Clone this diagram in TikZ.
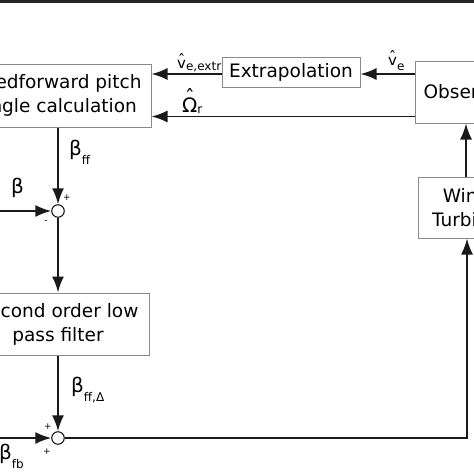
\documentclass[tikz,border=0pt]{standalone}
\usepackage{fontspec}
\setmainfont{DejaVu Sans}
\usetikzlibrary{arrows.meta,calc}
\definecolor{linec}{HTML}{1A1A1A}
\definecolor{boxgray}{HTML}{8A8A8A}
\definecolor{topc}{HTML}{262626}
\newcommand{\subtx}[2]{\raisebox{-#1}{\fontsize{12}{12}\selectfont #2}}
\newcommand{\hatover}[2]{\leavevmode\setbox0\hbox{#1}\rlap{\hbox to\wd0{\hss\raisebox{#2}{ˆ}\hss}}\box0}
\begin{document}
\begin{tikzpicture}[x=1pt,y=-1pt,
  blk/.style={draw=boxgray, line width=1pt, fill=white, inner sep=0pt, align=center, font=\fontsize{18.5}{24}\selectfont},
  arr/.style={line width=1.8pt, draw=linec, -{Latex[length=16pt,width=12pt]}},
  sumc/.style={circle, draw=black, line width=1pt, fill=white, minimum size=12.5pt, inner sep=0pt},
  sg/.style={font=\fontsize{9}{9}\selectfont, inner sep=0pt},
  lab/.style={inner sep=0pt, anchor=base west, font=\fontsize{20}{20}\selectfont}]
\useasboundingbox (0,0) rectangle (474,474);
\clip (0,0) rectangle (474,474);
\fill[white] (0,0) rectangle (474,474);
\fill[topc] (0,0) rectangle (474,2.5);
% blocks
\node[blk, minimum width=186pt, minimum height=63pt] (ff) at (58,95.5) {Feedforward pitch\\angle calculation};
\node[blk, minimum width=182pt, minimum height=62pt] (so) at (58,324) {Second order low\\pass filter};
\node[blk, minimum width=138pt, minimum height=30pt] (ext) at (291,72) {Extrapolation};
\node[blk, minimum width=102pt, minimum height=62pt] (obs) at (466,92) {Observer};
\node[blk, minimum width=96pt, minimum height=61pt] (wt) at (466,207.5) {Wind\\Turbine};
% summing points
\node[sumc] (s1) at (58,211) {};
\node[sumc] (s2) at (58,438) {};
\coordinate (bin) at (0,211);
\coordinate (fbin) at (0,438);
% connectors
\draw[arr] ([yshift=-2pt]ext.east -| obs.west) -- ([yshift=-2pt]ext.east);
\draw[arr] ([yshift=-2pt]ext.west) -- ([yshift=-2pt]ext.west -| ff.east);
\draw[arr] ([yshift=7pt]obs.south west) -- ([yshift=7pt]obs.south west -| ff.east);
\draw[arr] (wt.north) -- (obs.south);
\draw[arr] (ff.south) -- (s1.north);
\draw[arr] (bin) -- (s1.west);
\draw[arr] (s1.south) -- (so.north);
\draw[arr] (so.south) -- (s2.north);
\draw[arr] (fbin) -- (s2.west);
\draw[arr] (s2.east) -| ([xshift=1pt]wt.south);
% labels
\node[lab] (lve) at (388,65) {{\fontsize{15}{15}\selectfont\hatover{v}{3pt}}\subtx{5pt}{e}};
\node[lab] (lvx) at (177,68) {{\fontsize{15}{15}\selectfont\hatover{v}{3pt}}\subtx{2pt}{e,extr}};
\node[lab] (lom) at (182,112) {\hatover{Ω}{8pt}\subtx{1pt}{r}};
\node[lab] (lbff) at (69,155) {β\subtx{9pt}{ff}};
\node[lab] (lb) at (11,193) {β};
\node[lab] (lbd) at (71,392) {β\subtx{9pt}{ff,Δ}};
\node[lab] (lbfb) at (-1,459) {β\subtx{9pt}{fb}};
\node[sg] (p1) at (67,198) {+};
\node[sg] (m1) at (46,222) {-};
\node[sg] (p2) at (48,427) {+};
\node[sg] (p3) at (47,452) {+};
\end{tikzpicture}
\end{document}
